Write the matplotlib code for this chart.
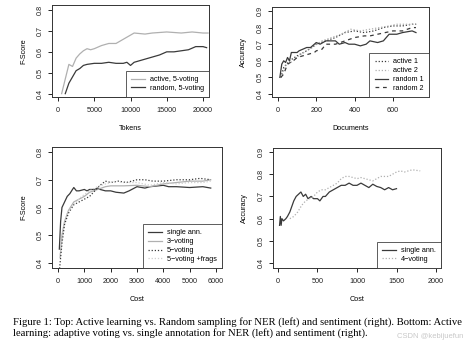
import matplotlib
matplotlib.use("Agg")
import matplotlib.pyplot as plt

plt.rcParams['font.family'] = ['Liberation Sans', 'DejaVu Sans']

DARK = '#3a3a3a'
LIGHT = '#b0b0b0'

# ---- Top-left: NER active vs random ----
tl_active_x = [500, 1000, 1500, 2000, 2500, 3000, 3500, 4000, 4500, 5000, 6000, 7000, 8000, 9000, 10000, 10500,
               12000, 13000, 15000, 17000, 18500, 20000, 20700]
tl_active_y = [0.40, 0.47, 0.54, 0.53, 0.57, 0.59, 0.605, 0.615, 0.61, 0.615, 0.63, 0.64, 0.64, 0.66, 0.68, 0.69,
               0.685, 0.69, 0.695, 0.69, 0.695, 0.69, 0.69]
tl_random_x = [1000, 1500, 2000, 2500, 3000, 3500, 4000, 5000, 6000, 7000, 8000, 9000, 9500, 10000, 10500,
               12000, 13000, 14000, 15000, 16000, 17000, 18000, 19000, 20000, 20500]
tl_random_y = [0.40, 0.45, 0.48, 0.51, 0.52, 0.535, 0.54, 0.545, 0.545, 0.55, 0.545, 0.545, 0.55, 0.535, 0.55,
               0.565, 0.575, 0.585, 0.60, 0.60, 0.605, 0.61, 0.625, 0.625, 0.62]

# ---- Top-right: sentiment active vs random ----
tr_random1_x = [10, 20, 30, 40, 50, 60, 70, 80, 100, 110, 130, 150, 170, 190, 200, 220, 250, 300, 320, 350, 370,
                400, 430, 460, 480, 520, 550, 580, 620, 650, 700, 720]
tr_random1_y = [0.50, 0.58, 0.60, 0.59, 0.62, 0.60, 0.65, 0.65, 0.65, 0.66, 0.67, 0.68, 0.68, 0.70, 0.71, 0.70,
                0.72, 0.72, 0.70, 0.71, 0.70, 0.70, 0.69, 0.70, 0.72, 0.71, 0.72, 0.76, 0.76, 0.77, 0.78, 0.77]
tr_random2_x = [15, 30, 50, 80, 100, 130, 160, 190, 200, 230, 250, 300, 350, 400, 450, 480, 520, 560, 600, 650,
                700, 720]
tr_random2_y = [0.50, 0.52, 0.58, 0.60, 0.62, 0.63, 0.64, 0.65, 0.66, 0.67, 0.70, 0.70, 0.72, 0.74, 0.75, 0.75,
                0.76, 0.77, 0.78, 0.78, 0.80, 0.80]
tr_active1_x = [15, 30, 60, 100, 150, 200, 250, 300, 350, 400, 450, 500, 550, 600, 650, 700, 720]
tr_active1_y = [0.50, 0.56, 0.60, 0.63, 0.66, 0.70, 0.72, 0.74, 0.77, 0.78, 0.77, 0.78, 0.80, 0.81, 0.81, 0.82,
                0.82]
tr_active2_x = [15, 40, 80, 120, 180, 230, 280, 330, 380, 430, 480, 530, 580, 620, 680, 730]
tr_active2_y = [0.50, 0.57, 0.60, 0.64, 0.68, 0.72, 0.74, 0.76, 0.79, 0.78, 0.79, 0.80, 0.81, 0.82, 0.82, 0.82]

# ---- Bottom-left: NER adaptive voting ----
bl_single_x = [50, 100, 150, 250, 350, 450, 550, 600, 700, 800, 1000, 1100, 1200, 1400, 1500, 1600, 1800, 2000,
               2200, 2500, 2700, 3000, 3300, 3500, 4000, 4200, 4500, 5000, 5500, 5800]
bl_single_y = [0.45, 0.55, 0.60, 0.62, 0.64, 0.65, 0.665, 0.672, 0.66, 0.66, 0.665, 0.66, 0.665, 0.665, 0.67,
               0.665, 0.66, 0.66, 0.655, 0.652, 0.66, 0.675, 0.67, 0.675, 0.68, 0.675, 0.675, 0.672, 0.675, 0.67]
bl_v3_x = [80, 150, 250, 400, 600, 800, 1000, 1200, 1500, 1800, 2000, 2500, 3000, 3500, 4000, 4500, 5000, 5500, 5800]
bl_v3_y = [0.42, 0.50, 0.55, 0.59, 0.62, 0.63, 0.64, 0.655, 0.665, 0.675, 0.678, 0.678, 0.68, 0.675, 0.685,
           0.69, 0.695, 0.695, 0.70]
bl_v5_x = [60, 150, 250, 400, 600, 800, 1000, 1200, 1400, 1600, 1800, 2000, 2300, 2600, 3000, 3300, 3600, 4000,
           4500, 5000, 5400, 5800]
bl_v5_y = [0.38, 0.47, 0.54, 0.58, 0.61, 0.62, 0.63, 0.64, 0.66, 0.68, 0.695, 0.69, 0.695, 0.69, 0.70, 0.70,
           0.695, 0.695, 0.70, 0.70, 0.705, 0.70]
bl_v5f_x = [80, 200, 350, 500, 700, 900, 1200, 1500, 1800, 2200, 2500, 3000, 3500, 4000, 4500, 5000, 5500, 5800]
bl_v5f_y = [0.43, 0.52, 0.58, 0.60, 0.62, 0.64, 0.66, 0.675, 0.685, 0.695, 0.69, 0.69, 0.68, 0.69, 0.685, 0.69,
            0.69, 0.695]

# ---- Bottom-right: sentiment adaptive voting ----
br_single_x = [20, 30, 40, 50, 70, 100, 120, 150, 180, 200, 230, 260, 290, 320, 350, 380, 420, 450, 500, 530,
               570, 600, 650, 700, 750, 800, 850, 900, 950, 1000, 1050, 1100, 1150, 1200, 1250, 1300, 1350, 1400,
               1450, 1500]
br_single_y = [0.57, 0.61, 0.57, 0.60, 0.59, 0.60, 0.61, 0.63, 0.66, 0.68, 0.70, 0.71, 0.72, 0.70, 0.71, 0.69,
               0.70, 0.69, 0.69, 0.68, 0.70, 0.70, 0.72, 0.73, 0.74, 0.75, 0.75, 0.76, 0.75, 0.75, 0.76, 0.75,
               0.74, 0.755, 0.745, 0.74, 0.73, 0.74, 0.73, 0.735]
br_v4_x = [150, 200, 250, 300, 350, 400, 450, 500, 550, 600, 650, 700, 750, 800, 850, 900, 950, 1000, 1050, 1100,
           1200, 1300, 1400, 1500, 1550, 1600, 1700, 1800]
br_v4_y = [0.60, 0.61, 0.63, 0.66, 0.68, 0.69, 0.70, 0.72, 0.73, 0.73, 0.74, 0.75, 0.76, 0.78, 0.79, 0.79, 0.785,
           0.78, 0.785, 0.78, 0.77, 0.79, 0.79, 0.81, 0.815, 0.81, 0.82, 0.815]

caption_lines = [
    "Figure 1: Top: Active learning vs. Random sampling for NER (left) and sentiment (right). Bottom: Active",
    "learning: adaptive voting vs. single annotation for NER (left) and sentiment (right).",
]

W, H = 474, 353
fig = plt.figure(figsize=(W / 100, H / 100), dpi=100)


def px_axes(l, r, t, b):
    return fig.add_axes([l / W, 1 - b / H, (r - l) / W, (b - t) / H])


FS = 5.2


def style(ax, xlim, ylim, xticks, yticks, xlabel, ylabel):
    ax.set_xlim(*xlim)
    ax.set_ylim(*ylim)
    ax.set_xticks(xticks)
    ax.set_yticks(yticks)
    ax.set_xticklabels([str(t) for t in xticks], fontsize=FS, color='#222')
    ax.set_yticklabels([f"{t:.1f}" for t in yticks], fontsize=FS, rotation=90, va='center', color='#222')
    ax.tick_params(length=3, width=0.6)
    ax.tick_params(axis='x', pad=4)
    ax.tick_params(axis='y', pad=3)
    for s in ax.spines.values():
        s.set_linewidth(0.7)
        s.set_color('#333')
    ax.set_xlabel(xlabel, fontsize=FS, labelpad=8)
    ax.set_ylabel(ylabel, fontsize=FS, labelpad=7)


def legend(ax):
    lg = ax.legend(loc='lower right', bbox_to_anchor=(1, 0), borderaxespad=0, fontsize=FS,
                   frameon=True, fancybox=False, handlelength=1.9, handletextpad=0.7,
                   labelspacing=0.25, borderpad=0.7)
    lg.get_frame().set_edgecolor('#333')
    lg.get_frame().set_linewidth(0.7)


# Top-left
ax1 = px_axes(52, 209, 5, 97)
ax1.plot(tl_active_x, tl_active_y, color=LIGHT, lw=0.9, label='active, 5-voting')
ax1.plot(tl_random_x, tl_random_y, color=DARK, lw=0.9, label='random, 5-voting')
style(ax1, (-830, 20830), (0.384, 0.824), [0, 5000, 10000, 15000, 20000], [0.4, 0.5, 0.6, 0.7, 0.8],
      'Tokens', 'F-Score')
legend(ax1)

# Top-right
ax2 = px_axes(272, 429, 7, 97)
ax2.plot(tr_active1_x, tr_active1_y, color=DARK, lw=0.9, ls=(0, (1, 1.5)), label='active 1')
ax2.plot(tr_active2_x, tr_active2_y, color=LIGHT, lw=0.9, ls=(0, (1, 1.5)), label='active 2')
ax2.plot(tr_random1_x, tr_random1_y, color=DARK, lw=0.9, label='random 1')
ax2.plot(tr_random2_x, tr_random2_y, color=DARK, lw=0.9, ls=(0, (3, 3)), label='random 2')
style(ax2, (-31, 788), (0.382, 0.924), [0, 200, 400, 600], [0.4, 0.5, 0.6, 0.7, 0.8, 0.9],
      'Documents', 'Accuracy')
legend(ax2)

# Bottom-left
ax3 = px_axes(52, 222, 147, 268)
ax3.plot(bl_single_x, bl_single_y, color=DARK, lw=0.9, label='single ann.')
ax3.plot(bl_v3_x, bl_v3_y, color=LIGHT, lw=0.9, label='3\u2212voting')
ax3.plot(bl_v5_x, bl_v5_y, color=DARK, lw=0.9, ls=(0, (1, 1.5)), label='5\u2212voting')
ax3.plot(bl_v5f_x, bl_v5f_y, color='#cfcfcf', lw=0.9, ls=(0, (1, 1.5)), label='5\u2212voting +frags')
style(ax3, (-228, 6228), (0.382, 0.818), [0, 1000, 2000, 3000, 4000, 5000, 6000], [0.4, 0.5, 0.6, 0.7, 0.8],
      'Cost', 'F-Score')
legend(ax3)

# Bottom-right
ax4 = px_axes(273, 441, 148, 268)
ax4.plot(br_single_x, br_single_y, color=DARK, lw=0.9, label='single ann.')
ax4.plot(br_v4_x, br_v4_y, color=LIGHT, lw=0.9, ls=(0, (1, 1.5)), label='4\u2212voting')
style(ax4, (-63, 2063), (0.378, 0.918), [0, 500, 1000, 1500, 2000], [0.4, 0.5, 0.6, 0.7, 0.8, 0.9],
      'Cost', 'Accuracy')
legend(ax4)

# Caption
for i, line in enumerate(caption_lines):
    fig.text(13 / W, 1 - (322 + i * 11.5) / H, line, fontsize=7.65, family=['Liberation Serif', 'DejaVu Serif'],
             va='center', ha='left')

fig.text(463 / W, 1 - 336 / H, 'CSDN @kebijuefun', fontsize=5.5, color='#c8c8c8', ha='right', va='center')

fig.savefig('out.png', dpi=100)
